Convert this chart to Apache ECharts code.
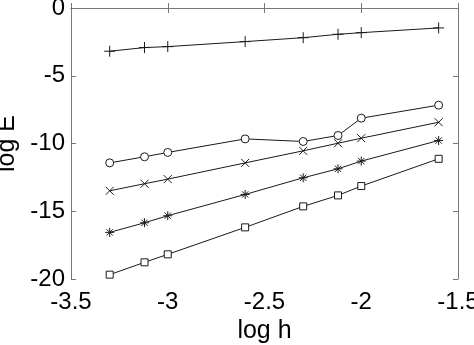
<!DOCTYPE html>
<html><head><meta charset="utf-8">
<script src="https://cdn.jsdelivr.net/npm/echarts@6/dist/echarts.min.js"></script>
<style>html,body{margin:0;padding:0;background:#fff}#c{width:474px;height:345px}</style>
</head><body><div id="c"></div>
<script>
var logH = [-3.3, -3.12, -3.0, -2.6, -2.3, -2.12, -2.0, -1.6];
var plusE   = [-3.19, -2.92, -2.85, -2.48, -2.19, -1.94, -1.82, -1.47];
var circleE = [-11.43, -10.98, -10.66, -9.66, -9.85, -9.41, -8.13, -7.17];
var crossE  = [-13.49, -12.97, -12.63, -11.43, -10.54, -9.98, -9.61, -8.43];
var starE   = [-16.56, -15.85, -15.33, -13.76, -12.53, -11.87, -11.30, -9.78];
var squareE = [-19.68, -18.77, -18.18, -16.19, -14.64, -13.83, -13.14, -11.13];
var xTicks = [-3.5, -3, -2.5, -2, -1.5];
var yTicks = [-20, -15, -10, -5, 0];

function pairs(ys){ return logH.map(function(x,i){ return [x, ys[i]]; }); }
var INK = '#1a1a1a';
var FONT = 'Liberation Sans, Arial, sans-serif';
var PLUS = 'path://M0,5H10M5,0V10';
var CROSS = 'path://M0,0L10,10M10,0L0,10';
var STAR = 'path://M0,5H10M5,0V10M1.5,1.5L8.5,8.5M8.5,1.5L1.5,8.5';
var CIRC = 'path://M10,5A5,5 0 1 1 0,5A5,5 0 1 1 10,5Z';
var SQR = 'path://M0,0H10V10H0Z';

function ser(ys, symbol, size, fill){
  return {
    type: 'line', data: pairs(ys), symbol: symbol, symbolSize: size,
    showAllSymbol: true, animation: false, silent: true,
    lineStyle: { color: INK, width: 1 },
    itemStyle: { color: fill, borderColor: INK, borderWidth: 1 },
    z: 3
  };
}

var chart = echarts.init(document.getElementById('c'), null, {renderer: 'canvas'});
var axisLine = { show: true, lineStyle: { color: '#777', width: 1 } };
chart.setOption({
  animation: false,
  grid: { left: 71, right: 16, top: 8, bottom: 66, containLabel: false, outerBoundsMode: 'none' },
  xAxis: [{
    type: 'value', min: -3.5, max: -1.5, interval: 0.5,
    axisLine: axisLine,
    axisTick: { show: true, inside: true, length: 5, lineStyle: { color: '#777' } },
    splitLine: { show: false },
    axisLabel: { color: '#000', fontSize: 24, fontFamily: FONT, margin: 11,
      formatter: function(v){ return xTicks.indexOf(v) >= 0 ? String(v) : ''; } },
    name: 'log h', nameLocation: 'middle', nameGap: 40,
    nameTextStyle: { color: '#000', fontSize: 25, fontFamily: FONT }
  }, {
    type: 'value', position: 'top', min: -3.5, max: -1.5, interval: 0.5,
    axisLine: axisLine,
    axisTick: { show: true, inside: true, length: 5, lineStyle: { color: '#777' } },
    axisLabel: { show: false }, splitLine: { show: false }
  }],
  yAxis: [{
    type: 'value', min: -20, max: 0, interval: 5,
    axisLine: axisLine,
    axisTick: { show: true, inside: true, length: 5, lineStyle: { color: '#777' } },
    splitLine: { show: false },
    axisLabel: { color: '#000', fontSize: 24, fontFamily: FONT, margin: 6,
      formatter: function(v){ return yTicks.indexOf(v) >= 0 ? String(v) : ''; } },
    name: 'log E', nameLocation: 'middle', nameGap: 45,
    nameTextStyle: { color: '#000', fontSize: 25, fontFamily: FONT }
  }, {
    type: 'value', position: 'right', min: -20, max: 0, interval: 5,
    axisLine: axisLine,
    axisTick: { show: true, inside: true, length: 5, lineStyle: { color: '#777' } },
    axisLabel: { show: false }, splitLine: { show: false }
  }],
  series: [
    ser(plusE, PLUS, 11, 'none'),
    ser(circleE, CIRC, 8, '#fff'),
    ser(crossE, CROSS, 8, 'none'),
    ser(starE, STAR, 9, 'none'),
    ser(squareE, SQR, 7, '#fff')
  ]
});
</script>
</body></html>
